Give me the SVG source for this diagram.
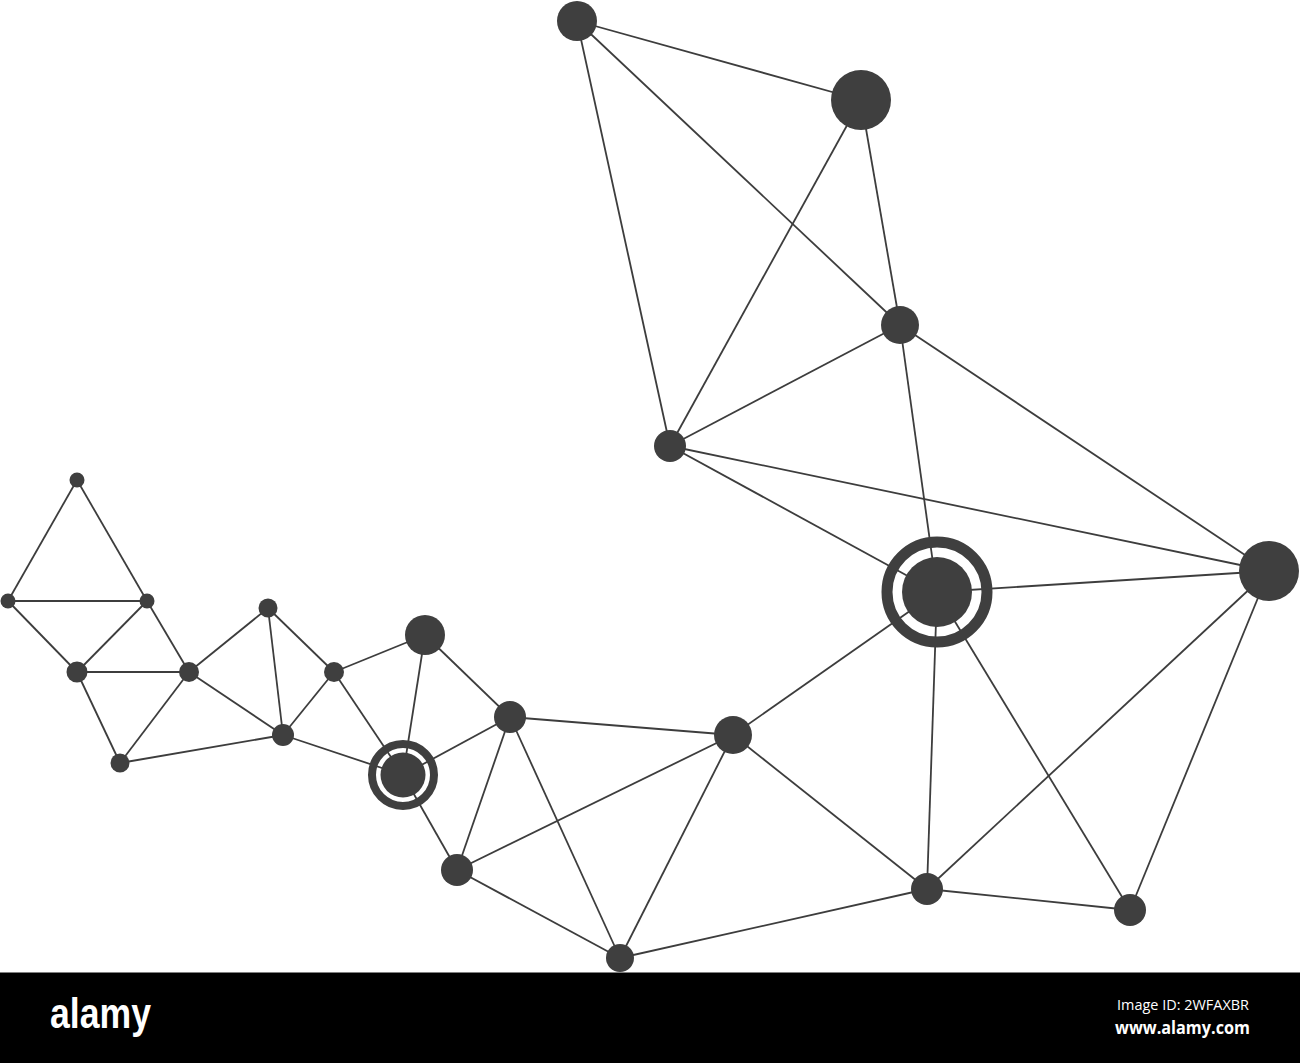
<svg xmlns="http://www.w3.org/2000/svg" width="1300" height="1063" viewBox="0 0 1300 1063">
<style>
.e{stroke:#3d3d3d;stroke-width:1.8;fill:none}
.n{fill:#3f3f3f}
.r{fill:none;stroke:#3f3f3f}
.t{fill:#fff;font-family:"Open Sans","Liberation Sans",Arial,sans-serif}
</style>
<rect width="1300" height="1063" fill="#fff"/>
<g id="connectors" class="e">
<line x1="577" y1="21" x2="861" y2="100"/>
<line x1="577" y1="21" x2="900" y2="325"/>
<line x1="577" y1="21" x2="670" y2="446"/>
<line x1="861" y1="100" x2="670" y2="446"/>
<line x1="861" y1="100" x2="900" y2="325"/>
<line x1="900" y1="325" x2="670" y2="446"/>
<line x1="900" y1="325" x2="937" y2="592"/>
<line x1="900" y1="325" x2="1269" y2="571"/>
<line x1="670" y1="446" x2="937" y2="592"/>
<line x1="670" y1="446" x2="1269" y2="571"/>
<line x1="937" y1="592" x2="1269" y2="571"/>
<line x1="937" y1="592" x2="733" y2="735"/>
<line x1="937" y1="592" x2="927" y2="889"/>
<line x1="937" y1="592" x2="1130" y2="910"/>
<line x1="1269" y1="571" x2="927" y2="889"/>
<line x1="1269" y1="571" x2="1130" y2="910"/>
<line x1="733" y1="735" x2="510" y2="717"/>
<line x1="733" y1="735" x2="457" y2="870"/>
<line x1="733" y1="735" x2="620" y2="958"/>
<line x1="733" y1="735" x2="927" y2="889"/>
<line x1="927" y1="889" x2="1130" y2="910"/>
<line x1="927" y1="889" x2="620" y2="958"/>
<line x1="620" y1="958" x2="510" y2="717"/>
<line x1="620" y1="958" x2="457" y2="870"/>
<line x1="457" y1="870" x2="510" y2="717"/>
<line x1="457" y1="870" x2="403" y2="775"/>
<line x1="510" y1="717" x2="403" y2="775"/>
<line x1="510" y1="717" x2="425" y2="635"/>
<line x1="425" y1="635" x2="403" y2="775"/>
<line x1="425" y1="635" x2="334" y2="672"/>
<line x1="334" y1="672" x2="403" y2="775"/>
<line x1="283" y1="735" x2="403" y2="775"/>
<line x1="334" y1="672" x2="268" y2="608"/>
<line x1="334" y1="672" x2="283" y2="735"/>
<line x1="268" y1="608" x2="189" y2="672"/>
<line x1="268" y1="608" x2="283" y2="735"/>
<line x1="189" y1="672" x2="283" y2="735"/>
<line x1="189" y1="672" x2="147" y2="601"/>
<line x1="189" y1="672" x2="77" y2="672"/>
<line x1="189" y1="672" x2="120" y2="763"/>
<line x1="147" y1="601" x2="8" y2="601"/>
<line x1="147" y1="601" x2="77" y2="480"/>
<line x1="147" y1="601" x2="77" y2="672"/>
<line x1="77" y1="672" x2="8" y2="601"/>
<line x1="77" y1="672" x2="120" y2="763"/>
<line x1="8" y1="601" x2="77" y2="480"/>
<line x1="120" y1="763" x2="283" y2="735"/>
</g>
<g id="nA"><circle class="n" cx="577" cy="21" r="20"/></g>
<g id="nB"><circle class="n" cx="861" cy="100" r="30"/></g>
<g id="nC"><circle class="n" cx="900" cy="325" r="19"/></g>
<g id="nD"><circle class="n" cx="670" cy="446" r="16"/></g>
<g id="nE"><circle class="r" cx="937" cy="592" r="50" stroke-width="11"/><circle class="n" cx="937" cy="592" r="35"/></g>
<g id="nF"><circle class="n" cx="1269" cy="571" r="30"/></g>
<g id="nG"><circle class="n" cx="733" cy="735" r="19"/></g>
<g id="nH"><circle class="n" cx="927" cy="889" r="16"/></g>
<g id="nI"><circle class="n" cx="1130" cy="910" r="16"/></g>
<g id="nJ"><circle class="n" cx="620" cy="958" r="14"/></g>
<g id="nK"><circle class="n" cx="457" cy="870" r="16"/></g>
<g id="nL"><circle class="n" cx="510" cy="717" r="16"/></g>
<g id="nM"><circle class="n" cx="425" cy="635" r="20"/></g>
<g id="nN"><circle class="r" cx="403" cy="775" r="31" stroke-width="8"/><circle class="n" cx="403" cy="775" r="22.5"/></g>
<g id="nO"><circle class="n" cx="334" cy="672" r="10"/></g>
<g id="nP"><circle class="n" cx="268" cy="608" r="9.5"/></g>
<g id="nQ"><circle class="n" cx="283" cy="735" r="11"/></g>
<g id="nR"><circle class="n" cx="189" cy="672" r="10"/></g>
<g id="nS"><circle class="n" cx="147" cy="601" r="7.5"/></g>
<g id="nT"><circle class="n" cx="77" cy="672" r="10.5"/></g>
<g id="nU"><circle class="n" cx="8" cy="601" r="7.5"/></g>
<g id="nV"><circle class="n" cx="77" cy="480" r="7.5"/></g>
<g id="nW"><circle class="n" cx="120" cy="763" r="9.5"/></g>
<g id="footer">
<rect x="0" y="972.5" width="1300" height="90.5" fill="#000"/>
<text x="50" y="1028" font-family="'Liberation Sans',Arial,sans-serif" fill="#fff" font-size="38" font-weight="bold" textLength="101" lengthAdjust="spacingAndGlyphs" transform="translate(0,1028) scale(1,1.12) translate(0,-1028)">alamy</text>
<text class="t" x="1117" y="1010" font-size="15" textLength="132" lengthAdjust="spacingAndGlyphs">Image ID: 2WFAXBR</text>
<text class="t" x="1115" y="1034" font-size="18" font-weight="bold" textLength="135" lengthAdjust="spacingAndGlyphs">www.alamy.com</text>
</g>
</svg>
